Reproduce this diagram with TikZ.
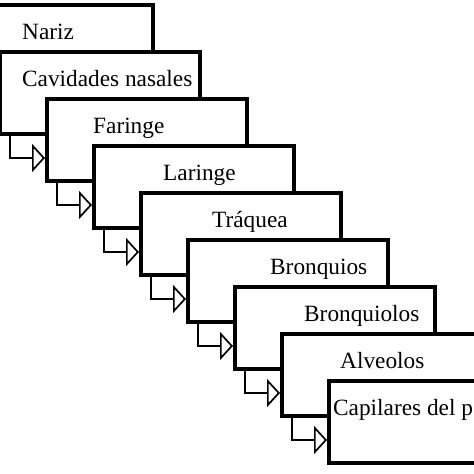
\documentclass[tikz,border=0pt]{standalone}
\usepackage{fontspec}
\setmainfont{Liberation Serif}
\usetikzlibrary{arrows.meta,calc}

\begin{document}
\begin{tikzpicture}[x=1bp,y=-1bp,
    paso/.style={draw,line width=4bp,fill=white,minimum width=200bp,minimum height=82bp,anchor=north west,inner sep=0pt},
    rotulo/.style={font=\fontsize{23.3bp}{27bp}\selectfont,inner sep=0pt,anchor=base west},
    flecha/.style={line width=1.7bp,-{Triangle[open,length=13bp,width=28bp]}}]
    \useasboundingbox (0,0) rectangle (474,474);
    \clip (0,0) rectangle (474,474);
    % cajas en escalera
    \node[paso] (nariz) at (-49,3) {};
    \node[paso] (cavidades) at (-2,50) {};
    \node[paso] (faringe) at (45,97) {};
    \node[paso] (laringe) at (92,144) {};
    \node[paso] (traquea) at (139,191) {};
    \node[paso] (bronquios) at (186,238) {};
    \node[paso] (bronquiolos) at (233,285) {};
    \node[paso] (alveolos) at (280,332) {};
    \node[paso] (capilares) at (327,379) {};
    % textos
    \node[rotulo] (t-nariz) at (22,40) {Nariz};
    \node[rotulo] (t-cavidades) at (22,87) {Cavidades nasales};
    \node[rotulo] (t-faringe) at (93,134) {Faringe};
    \node[rotulo] (t-laringe) at (163,181) {Laringe};
    \node[rotulo] (t-traquea) at (212,228) {Tráquea};
    \node[rotulo] (t-bronquios) at (270,274) {Bronquios};
    \node[rotulo] (t-bronquiolos) at (304,321) {Bronquiolos};
    \node[rotulo] (t-alveolos) at (340,368) {Alveolos};
    \node[rotulo] (t-capilares) at (333,415) {Capilares del p};
    % conectores
    \draw[flecha] ($(nariz.south west)+(12,0)$) |- ($(cavidades.south west)+(0,-25)$);
    \draw[flecha] ($(cavidades.south west)+(12,0)$) |- ($(faringe.south west)+(0,-25)$);
    \draw[flecha] ($(faringe.south west)+(12,0)$) |- ($(laringe.south west)+(0,-25)$);
    \draw[flecha] ($(laringe.south west)+(12,0)$) |- ($(traquea.south west)+(0,-25)$);
    \draw[flecha] ($(traquea.south west)+(12,0)$) |- ($(bronquios.south west)+(0,-25)$);
    \draw[flecha] ($(bronquios.south west)+(12,0)$) |- ($(bronquiolos.south west)+(0,-25)$);
    \draw[flecha] ($(bronquiolos.south west)+(12,0)$) |- ($(alveolos.south west)+(0,-25)$);
    \draw[flecha] ($(alveolos.south west)+(12,0)$) |- ($(capilares.south west)+(0,-25)$);
\end{tikzpicture}
\end{document}
